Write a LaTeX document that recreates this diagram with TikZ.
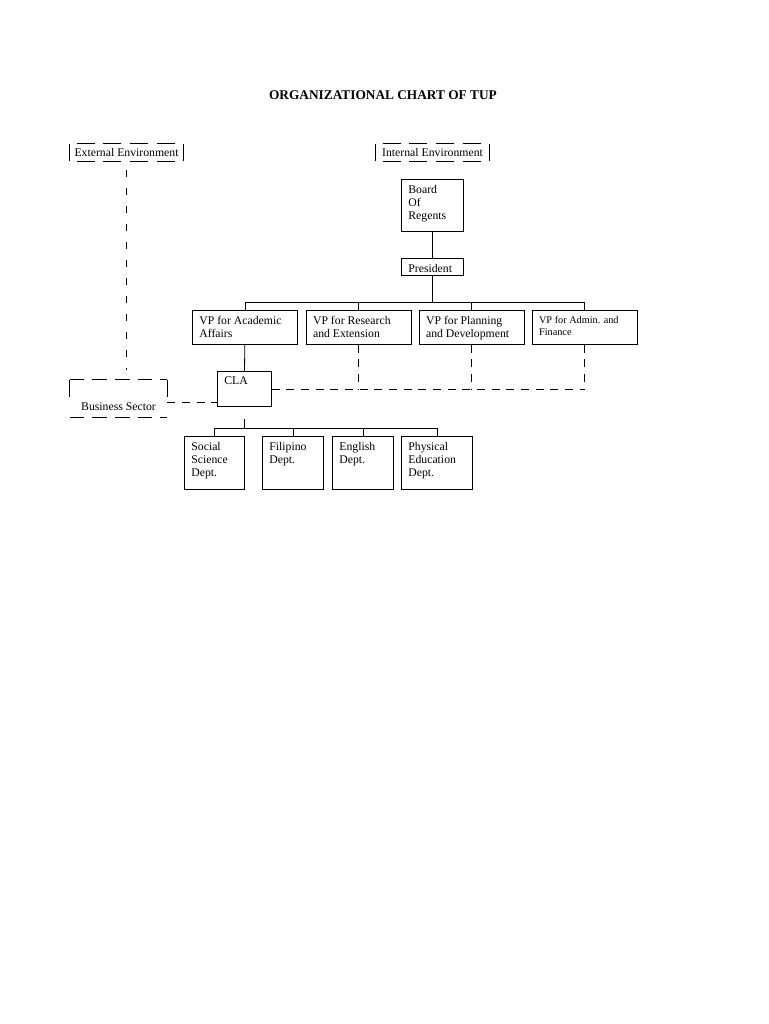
\documentclass[tikz,border=0pt]{standalone}
\usepackage{fontspec}
\setmainfont{Liberation Serif}
\usetikzlibrary{positioning}

\newcommand{\cellbox}[3]{\parbox[c][\dimexpr#2-8.5pt\relax][t]{\dimexpr#1-10.5pt\relax}{\raggedright #3}}

\tikzset{
  orgbox/.style={draw, line width=0.6pt, inner xsep=5.25pt, inner ysep=4.25pt, anchor=north west, font=\fontsize{8.8}{10}\selectfont},
  envbox/.style={inner sep=0pt, font=\fontsize{8.8}{10}\selectfont},
  charttitle/.style={font=\bfseries\fontsize{10}{12}\selectfont},
  frame/.style={line width=0.6pt},
  framedash/.style={line width=0.6pt, dash pattern=on 13.5pt off 6.5pt},
  bizdash/.style={line width=0.6pt, dash pattern=on 11pt off 6pt},
  link/.style={line width=0.6pt, dash pattern=on 6pt off 5pt},
  extlink/.style={line width=0.6pt, dash pattern=on 5.25pt off 8.25pt},
  every edge/.append style={line width=0.6pt}
}

\begin{document}
\begin{tikzpicture}
    \useasboundingbox (0,0) rectangle (576pt,-768pt);
    \node[charttitle] (title) at (287.25pt,-71.25pt) {ORGANIZATIONAL CHART OF TUP};

    % environments
    \node[envbox, minimum width=84.75pt, minimum height=12.75pt] (ext) at (94.9pt,-114.4pt) {External Environment};
    \node[envbox, minimum width=84.75pt, minimum height=12.75pt] (int) at (324.4pt,-114.4pt) {Internal Environment};
    \node[envbox, minimum width=72.75pt, minimum height=15pt] (biz) at (88.9pt,-305.25pt) {Business Sector};

    % chart
    \node[orgbox] (board) at (300.75pt,-134.25pt) {\cellbox{46.5pt}{39pt}{Board\\Of\\Regents}};
    \node[orgbox, below=19.65pt of board] (pres) {\cellbox{46.5pt}{12.75pt}{President}};

    \node[orgbox] (vp1) at (144pt,-232.5pt) {\cellbox{78.75pt}{25.5pt}{VP for Academic\\Affairs}};
    \node[orgbox, right=5.9pt of vp1] (vp2) {\cellbox{78.75pt}{25.5pt}{VP for Research\\and Extension}};
    \node[orgbox, right=5.4pt of vp2] (vp3) {\cellbox{78.75pt}{25.5pt}{VP for Planning\\and Development}};
    \node[orgbox, right=5.4pt of vp3] (vp4) {\cellbox{78.75pt}{25.5pt}{\fontsize{7.7}{9}\selectfont VP for Admin. and\\Finance}};

    \node[orgbox] (cla) at (162.75pt,-278.25pt) {\cellbox{40.5pt}{26.25pt}{CLA}};

    \node[orgbox] (soc) at (138pt,-327pt) {\cellbox{45pt}{39.75pt}{Social\\Science\\Dept.}};
    \node[orgbox, right=12.9pt of soc] (fil) {\cellbox{45.75pt}{39.75pt}{Filipino\\Dept.}};
    \node[orgbox, right=6.15pt of fil] (eng) {\cellbox{45.75pt}{39.75pt}{English\\Dept.}};
    \node[orgbox, right=5.4pt of eng] (pe) {\cellbox{53.25pt}{39.75pt}{Physical\\Education\\Dept.}};

    % frames of the environment boxes
    \coordinate (biztop) at ([yshift=12.75pt]biz.north);
    \draw[frame] (ext.north west) -- (ext.south west) (ext.north east) -- (ext.south east);
    \draw[frame] (int.north west) -- (int.south west) (int.north east) -- (int.south east);
    \draw[framedash] ([xshift=5.25pt]ext.north west) -- ([xshift=-6pt]ext.north east)
                     ([xshift=5.25pt]ext.south west) -- ([xshift=-6pt]ext.south east);
    \draw[framedash] ([xshift=5.25pt]int.north west) -- ([xshift=-6pt]int.north east)
                     ([xshift=5.25pt]int.south west) -- ([xshift=-6pt]int.south east);
    \draw[frame] (biz.north west) -- (biztop -| biz.west) (biz.north east) -- (biztop -| biz.east);
    \draw[bizdash] (biztop -| biz.west) -- (biztop -| biz.east) (biz.south west) -- (biz.south east);

    % solid lines
    \coordinate (vpbus) at ([yshift=-19.5pt]pres.south);
    \coordinate (clastub) at ([yshift=-9pt]cla.south);
    \coordinate (deptbus) at ([yshift=6pt]soc.north);

    \path   (board) edge (pres)
            (pres) edge (vpbus)
            (vpbus -| vp1) edge (vpbus -| vp4)
            (vpbus -| vp1) edge (vp1)
            (vpbus -| vp2) edge (vp2)
            (vpbus -| vp3) edge (vp3)
            (vpbus -| vp4) edge (vp4)
            (vp1) edge (cla)
            (clastub) edge (deptbus -| cla)
            (deptbus -| soc) edge (deptbus -| pe)
            (deptbus -| soc) edge (soc)
            (deptbus -| fil) edge (fil)
            (deptbus -| eng) edge (eng)
            (deptbus -| pe) edge (pe);

    % dashed lines
    \coordinate (extfoot) at ([yshift=-6.75pt]ext.south);
    \coordinate (bizhead) at ([yshift=20.25pt]biz.north);
    \coordinate (bizlink) at ([yshift=3.75pt]biz.east);

    \path[link] (cla) edge (cla -| vp4)
                (vp2) edge (cla -| vp2)
                (vp3) edge (cla -| vp3)
                (vp4) edge (cla -| vp4)
                (bizlink) edge (bizlink -| cla.west);
    \path[extlink] (extfoot) edge (extfoot |- bizhead);
\end{tikzpicture}
\end{document}
